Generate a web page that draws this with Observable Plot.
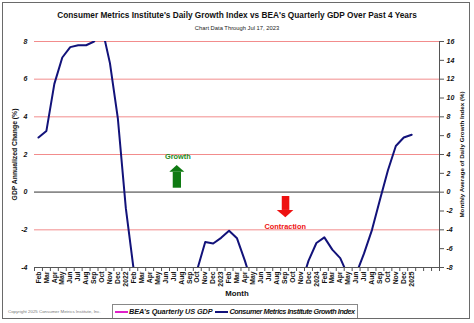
<!DOCTYPE html>
<html><head><meta charset="utf-8">
<script src="https://cdn.jsdelivr.net/npm/d3@7"></script>
<script src="https://cdn.jsdelivr.net/npm/@observablehq/plot@0.6"></script>
<style>
html,body{margin:0;padding:0;background:#fff;}
#wrap{position:relative;width:474px;height:323px;overflow:hidden;font-family:Arial,"Liberation Sans",sans-serif;background:#fff;}
#border{position:absolute;left:2px;top:2px;width:468px;height:317px;border:1px solid #6a6a6a;box-sizing:border-box;}
#chart{position:absolute;left:0;top:0;}
#title{position:absolute;left:0;width:474px;top:10px;text-align:center;font-weight:bold;font-size:9.3px;color:#111;white-space:nowrap;transform:scaleX(0.89);transform-origin:237px 0;}
#subtitle{position:absolute;left:0;width:474px;top:25px;text-align:center;font-size:5.8px;color:#222;}
#copy{position:absolute;left:8px;top:309px;font-size:4.4px;color:#777;white-space:nowrap;}
#legend{position:absolute;left:112px;top:304px;height:15px;border:1px solid #888;box-sizing:border-box;display:flex;align-items:center;font-weight:bold;font-style:italic;font-size:7.3px;color:#111;white-space:nowrap;padding:0 2px;}
.sw{display:inline-block;flex:0 0 13px;width:13px;height:2px;margin-right:1px;}
</style></head>
<body>
<div id="wrap">
  <div id="chart"></div>
  <div id="title"></div>
  <div id="subtitle"></div>
  <div id="copy"></div>
  <div id="legend"></div>
  <div id="border"></div>
</div>
<script>
// ---- data ----
const titleText = "Consumer Metrics Institute's Daily Growth Index vs BEA's Quarterly GDP Over Past 4 Years";
const subtitleText = "Chart Data Through Jul 17, 2023";
const copyrightText = "Copyright 2025 Consumer Metrics Institute, Inc.";
const leftLabel = "GDP Annualized Change (%)";
const rightLabel = "Monthly Average of Daily Growth Index (%)";
const xLabel = "Month";

// category labels (Feb 2021 .. Apr 2025); last three categories have no label
const monthLabels = ["Feb","Mar","Apr","May","Jun","Jul","Aug","Sep","Oct","Nov","Dec","2022",
  "Feb","Mar","Apr","May","Jun","Jul","Aug","Sep","Oct","Nov","Dec","2023",
  "Feb","Mar","Apr","May","Jun","Jul","Aug","Sep","Oct","Nov","Dec","2024",
  "Feb","Mar","Apr","May","Jun","Jul","Aug","Sep","Oct","Nov","Dec","2025",
  "","",""];

// Consumer Metrics Institute Growth Index (right axis, %); values off the chart are clipped
const growthIndex = [5.8,6.5,11.5,14.3,15.4,15.6,15.6,16.0,17.5,13.7,7.8,-1.7,
  -8.3,-12,-14,-15,-15,-14,-13,-11,-8.2,-5.3,-5.45,-4.85,
  -4.1,-4.9,-7.3,-10,-12,-13,-13,-12,-11,-10,-7.3,-5.4,
  -4.8,-6.1,-7.0,-8.9,-8.7,-6.5,-4.0,-0.8,2.3,4.9,5.8,6.1,
  null,null,null];

// BEA's Quarterly US GDP (left axis) - no points visible on the chart
const gdpQuarterly = [];

const leftTicks = [8,6,4,2,0,-2,-4];          // GDP %
const rightTicks = [16,14,12,10,8,6,4,2,0,-2,-4,-6,-8]; // growth index %
const legendItems = [{label:"BEA's Quarterly US GDP", color:"#e020c8"},
                     {label:"Consumer Metrics Institute Growth Index", color:"#12127a"}];

// annotations (x in category index, y in right-axis units)
const noteText = [{label:"Growth", i:17.55, v:3.8, color:"#1d8a1d"},
                  {label:"Contraction", i:31.07, v:-3.64, color:"#ee1111"}];
const arrowShafts = [{i1:16.97, i2:18.01, v1:0.42, v2:2.12, color:"#0f7a12"},
                     {i1:30.70, i2:31.65, v1:-0.46, v2:-1.94, color:"#ee1111"}];
const arrowHeads = [
  {id:"g", i:16.54, base:2.12, v:2.12, color:"#0f7a12"},
  {id:"g", i:17.47, base:2.12, v:2.84, color:"#0f7a12"},
  {id:"g", i:18.43, base:2.12, v:2.12, color:"#0f7a12"},
  {id:"r", i:30.07, base:-1.94, v:-1.94, color:"#ee1111"},
  {id:"r", i:31.15, base:-1.94, v:-2.72, color:"#ee1111"},
  {id:"r", i:32.16, base:-1.94, v:-1.94, color:"#ee1111"}];

// ---- build ----
document.getElementById("title").textContent = titleText;
document.getElementById("subtitle").textContent = subtitleText;
document.getElementById("copy").textContent = copyrightText;
const leg = document.getElementById("legend");
legendItems.forEach((it, k) => {
  const s = document.createElement("span"); s.className = "sw"; s.style.background = it.color;
  if (k > 0) s.style.marginLeft = "3px";
  leg.appendChild(s);
  const t = document.createElement("span"); t.textContent = it.label;
  t.style.letterSpacing = k > 0 ? "-0.45px" : "-0.1px";
  leg.appendChild(t);
});

const n = monthLabels.length;
const xDomain = [-0.5, n - 0.5];
const yDomain = [d3.min(rightTicks), d3.max(rightTicks)];
const series = growthIndex.map((v, i) => ({i, v})).filter(d => d.v != null);
const idx = d3.range(n);
const bounds = d3.range(n + 1).map(k => k - 0.5);
const gridVals = leftTicks.filter(v => v !== 0 && v !== d3.min(leftTicks)).map(v => v * 2);

const tickFont = {fontWeight:"bold", fontStyle:"italic", fontSize:7, fill:"#111"};

const plot = Plot.plot({
  width: 474, height: 323,
  marginLeft: 34, marginRight: 35, marginTop: 41, marginBottom: 56,
  style: {fontFamily: "Arial, 'Liberation Sans', sans-serif", background: "transparent", overflow: "visible"},
  x: {type: "linear", domain: xDomain, axis: null},
  y: {type: "linear", domain: yDomain, axis: null},
  marks: [
    Plot.ruleY(gridVals, {stroke: "#f28c8c", strokeWidth: 1}),
    Plot.ruleY([0], {stroke: "#8a8a8a", strokeWidth: 1.6}),
    Plot.ruleY([yDomain[0]], {stroke: "#555", strokeWidth: 1}),
    Plot.ruleX([xDomain[1]], {stroke: "#555", strokeWidth: 1}),
    Plot.axisY(leftTicks.map(v => v * 2), {anchor: "left", tickSize: 0, tickPadding: 7,
      tickFormat: d => String(d / 2), label: null, ...tickFont}),
    Plot.axisY(rightTicks, {anchor: "right", tickSize: 4, tickPadding: 3, stroke: "#555",
      tickFormat: d => String(d), label: null, ...tickFont}),
    Plot.axisX(bounds, {anchor: "bottom", tickSize: 4, stroke: "#555", tickFormat: () => "", label: null}),
    Plot.axisX(idx, {anchor: "bottom", tickSize: 0, tickPadding: 4, tickRotate: -90,
      tickFormat: i => monthLabels[i], label: null, fontWeight: "bold", fontSize: 6.8, fill: "#111"}),
    Plot.text([leftLabel], {frameAnchor: "left", textAnchor: "middle", rotate: -90, dx: -20, fontWeight: "bold", fontSize: 6.8, fill: "#111"}),
    Plot.text([rightLabel], {frameAnchor: "right", textAnchor: "middle", rotate: -90, dx: 23, fontWeight: "bold", fontSize: 6.2, fill: "#111"}),
    Plot.text([xLabel], {frameAnchor: "bottom", dy: 28, fontWeight: "bold", fontSize: 7.8, fill: "#111"}),
    Plot.rect(arrowShafts, {x1: "i1", x2: "i2", y1: "v1", y2: "v2", fill: "color"}),
    Plot.areaY(arrowHeads, {x: "i", y1: "base", y2: "v", z: "id", fill: "color"}),
    Plot.text(noteText, {x: "i", y: "v", text: "label", fill: "color", fontWeight: "bold", fontSize: 7.4}),
    Plot.line(series, {x: "i", y: "v", stroke: "#12127a", strokeWidth: 2, clip: true})
  ]
});
document.getElementById("chart").appendChild(plot);
</script>
</body></html>
